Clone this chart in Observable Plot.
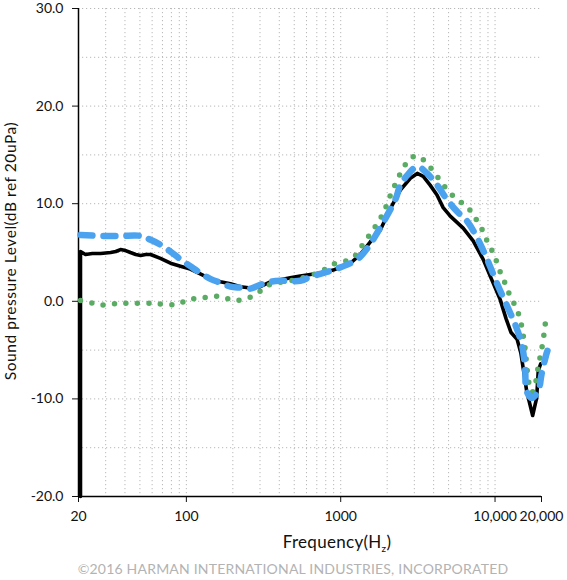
<!DOCTYPE html>
<html>
<head>
<meta charset="utf-8">
<script src="https://cdn.jsdelivr.net/npm/d3@7"></script>
<script src="https://cdn.jsdelivr.net/npm/@observablehq/plot@0.6"></script>
<style>
  body { margin: 0; background: #fff; font-family: Lato, sans-serif; }
  #footer {
    width: 567px; height: 22px; line-height: 22px;
    padding-left: 19px; box-sizing: border-box;
    text-align: center; font-size: 14px; color: #b3b3b3; letter-spacing: 0.2px;
  }
</style>
</head>
<body>
<div id="chart"></div>
<div id="footer">©2016 HARMAN INTERNATIONAL INDUSTRIES, INCORPORATED</div>
<script>
// measured response, black solid
const blackFreq = [20.6, 20.6, 22.2, 24.6, 27.8, 32.3, 34.9, 37.4, 40.4, 43.4, 47.0, 50.5, 54.5, 58.6, 67.9, 78.9, 91.6, 106, 123, 143, 166, 193, 224, 260, 301, 350, 406, 471, 547, 737, 895, 1156, 1341, 1556, 1806, 2097, 2434, 2825, 3134, 3427, 3797, 4207, 4613, 5146, 6216, 7216, 8376, 9292, 10784, 11800, 12700, 13900, 14700, 16030, 17530, 18610, 19060, 19760]
const blackDb = [-20, 5.1, 4.8, 4.9, 4.9, 5.0, 5.1, 5.3, 5.2, 5.0, 4.8, 4.7, 4.8, 4.8, 4.4, 3.9, 3.6, 3.3, 2.8, 2.3, 2.0, 1.8, 1.5, 1.36, 1.5, 2.0, 2.2, 2.4, 2.6, 2.9, 3.2, 3.9, 4.8, 6.1, 7.3, 9.5, 11.4, 12.6, 13.1, 12.8, 11.9, 10.9, 9.6, 8.7, 7.5, 6.2, 4.3, 2.6, 0.2, -1.8, -3.2, -3.9, -5.3, -9.2, -11.7, -9.9, -7.1, -6.4]

// target curve, blue dashed
const blueFreq = [20.6, 27.8, 37.4, 50.5, 58.6, 67.9, 78.9, 91.6, 106, 123, 143, 166, 193, 224, 260, 301, 350, 406, 547, 636, 928, 1278, 1483, 1721, 1998, 2272, 2434, 2696, 3130, 3634, 4218, 4896, 5683, 6597, 7657, 8888, 10317, 11976, 13530, 14900, 15650, 16030, 17250, 19040, 20000, 21520, 22040]
const blueDb = [6.8, 6.7, 6.7, 6.7, 6.3, 5.8, 5.1, 4.3, 3.6, 2.9, 2.3, 1.9, 1.5, 1.4, 1.3, 1.7, 2.0, 2.1, 2.1, 2.5, 3.3, 4.3, 5.4, 7.0, 8.8, 10.5, 11.9, 12.9, 13.8, 13.1, 11.9, 10.4, 9.2, 8.2, 6.5, 4.3, 1.8, -0.5, -2.4, -4.4, -6.8, -9.2, -9.9, -9.2, -7.5, -5.4, -4.9]

// second response, green dotted
const greenFreq = [20.6, 25, 29.9, 36.4, 42.2, 50.5, 61.3, 71.2, 87.9, 103.6, 122, 145.8, 171.5, 202, 248, 293, 335, 396, 471, 566, 707, 796, 897, 1105, 1282, 1404, 1575, 1745, 1910, 2029, 2185, 2533, 2818, 3140, 3585, 3990, 4450, 4970, 5700, 6610, 7220, 8000, 8620, 9290, 10000, 10620, 11440, 12170, 13200, 14120, 14770, 15290, 15680, 15920, 16650, 17420, 18220, 19140, 19840, 20450, 20940, 21380]
const greenDb = [0.07, -0.2, -0.4, -0.2, -0.2, -0.2, -0.2, -0.3, -0.3, 0.2, 0.3, 0.5, 0.45, 0.1, 0.3, 0.9, 1.6, 1.9, 2.1, 2.4, 2.9, 3.3, 3.8, 4.2, 4.9, 5.95, 7.0, 8.1, 9.2, 10.3, 11.5, 13.6, 14.6, 14.9, 14.2, 13.3, 12.3, 11.3, 10.4, 9.7, 8.8, 7.8, 6.6, 5.6, 4.5, 3.3, 2.1, 1.0, -0.15, -1.2, -2.3, -3.7, -4.9, -6.0, -8.5, -9.3, -8.5, -6.5, -5.3, -4.1, -2.9, -1.7]

const xTicks = [20, 100, 1000, 10000, 20000]
const xTickLabels = ['20', '100', '1000', '10,000', '20,000']
const yTicks = [-20, -10, 0, 10, 20, 30]
const xGrid = [30, 40, 50, 60, 70, 80, 90, 100, 200, 300, 400, 500, 600, 700, 800, 900, 1000, 2000, 3000, 4000, 5000, 6000, 7000, 8000, 9000, 10000]
const yGrid = [-15, -10, -5, 0, 5, 10, 15, 20, 25, 30]

const toRows = (fs, ds) => fs.map((f, i) => ({f: f, db: ds[i]}))
const black = toRows(blackFreq, blackDb)
const blue = toRows(blueFreq, blueDb)
const green = toRows(greenFreq, greenDb)

let chart = Plot.plot({
  width: 567,
  height: 558,
  marginTop: 8,
  marginBottom: 62,
  marginLeft: 78,
  marginRight: 26,
  style: {fontFamily: 'Lato, sans-serif', fontSize: '14px', color: '#111', overflow: 'visible'},
  x: {type: 'log', domain: [20, 20000]},
  y: {domain: [-20, 30]},
  marks: [
    Plot.gridX(xGrid, {stroke: '#b8b8b8', strokeOpacity: 1, strokeDasharray: '1.2,2.8'}),
    Plot.gridY(yGrid, {stroke: '#b8b8b8', strokeOpacity: 1, strokeDasharray: '1.2,2.8'}),
    Plot.axisY({
      ticks: yTicks,
      tickFormat: d => d.toFixed(1),
      tickSize: 6,
      tickPadding: 9,
      fontSize: 14,
      label: null,
    }),
    Plot.axisX({
      ticks: xTicks,
      tickFormat: d => xTickLabels[xTicks.indexOf(d)],
      tickSize: 6,
      tickPadding: 9,
      fontSize: 14,
      label: null,
    }),
    Plot.ruleY([-20], {stroke: 'black', strokeWidth: 1.5}),
    Plot.ruleX([20], {stroke: 'black', strokeWidth: 1.5}),
    Plot.line(black, {x: 'f', y: 'db', stroke: 'black', strokeWidth: 3.6, strokeLinejoin: 'round'}),
    Plot.line(green, {
      x: 'f', y: 'db', stroke: '#5aab64', strokeWidth: 5.5,
      strokeDasharray: '0,11.5', strokeLinecap: 'round', curve: 'catmull-rom',
    }),
    Plot.line(blue, {
      x: 'f', y: 'db', stroke: '#4ba3f0', strokeWidth: 6.5,
      strokeDasharray: '12,11', strokeLinecap: 'round', curve: 'catmull-rom',
    }),
  ],
})

const svg = d3.select(chart)
svg.append('text')
  .attr('transform', 'translate(16,251) rotate(-90)')
  .attr('text-anchor', 'middle')
  .attr('font-size', 15.5)
  .attr('letter-spacing', 0.55)
  .attr('fill', '#111')
  .text('Sound pressure Level(dB ref 20uPa)')

const xLabel = svg.append('text')
  .attr('x', 337)
  .attr('y', 548)
  .attr('text-anchor', 'middle')
  .attr('font-size', 17)
  .attr('letter-spacing', 0.3)
  .attr('fill', '#111')
xLabel.append('tspan').text('Frequency(H')
xLabel.append('tspan').attr('font-size', 10).attr('dy', 4).text('z')
xLabel.append('tspan').attr('dy', -4).text(')')

d3.select('#chart').append(() => chart)
</script>
</body>
</html>
